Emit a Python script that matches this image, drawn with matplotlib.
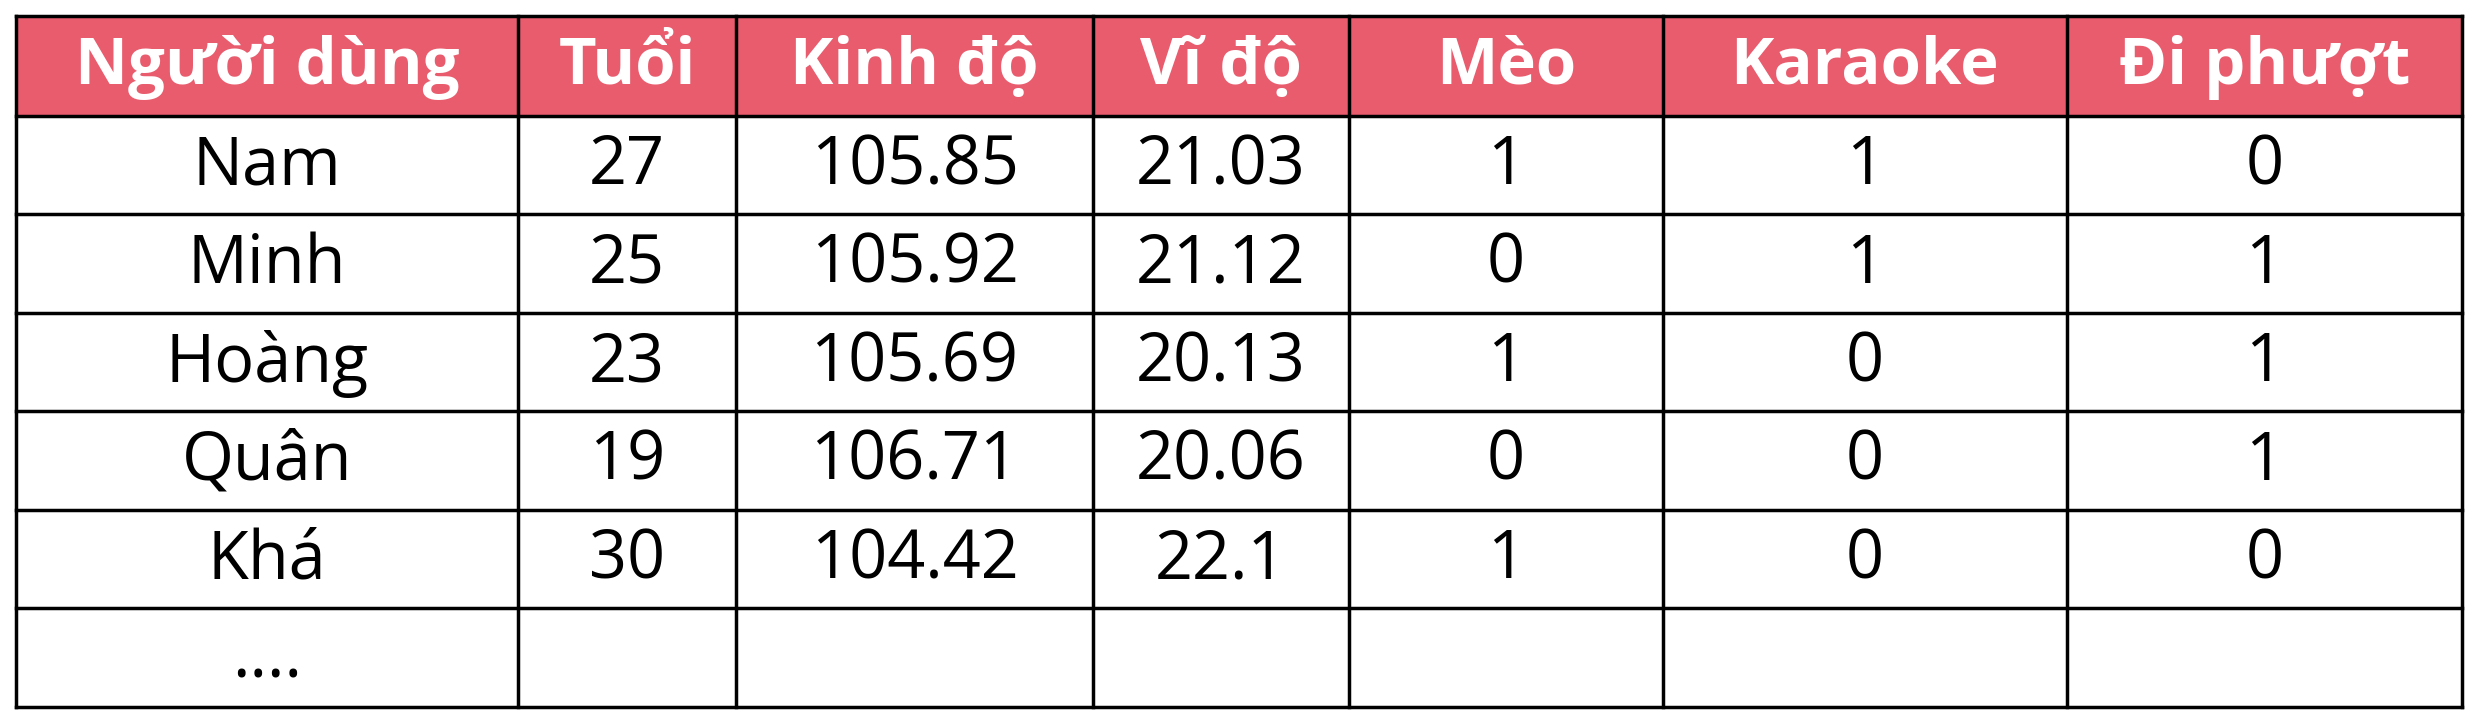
import matplotlib.pyplot as plt
from matplotlib.patches import Rectangle

headers = ["Người dùng", "Tuổi", "Kinh độ", "Vĩ độ", "Mèo", "Karaoke", "Đi phượt"]
users = ["Nam", "Minh", "Hoàng", "Quân", "Khá", "...."]
ages = ["27", "25", "23", "19", "30", ""]
lons = ["105.85", "105.92", "105.69", "106.71", "104.42", ""]
lats = ["21.03", "21.12", "20.13", "20.06", "22.1", ""]
meo = ["1", "0", "1", "0", "1", ""]
karaoke = ["1", "1", "0", "0", "0", ""]
phuot = ["0", "1", "1", "1", "0", ""]
columns = [users, ages, lons, lats, meo, karaoke, phuot]

# layout in a 1568 x 455 drawing space
col_edges = [10, 327, 465, 690, 852, 1050, 1305, 1555]
top, header_bottom, row_h = 10, 73, 62.3

fig = plt.figure(figsize=(24.83, 7.2), dpi=100)
ax = fig.add_axes([0, 0, 1, 1])
ax.set_xlim(0, 1568)
ax.set_ylim(455, 0)
ax.axis("off")

bottom = header_bottom + row_h * len(users)
ax.add_patch(Rectangle((col_edges[0], top), col_edges[-1] - col_edges[0],
                       header_bottom - top, color="#E95C6E", zorder=0))

for i, h in enumerate(headers):
    cx = (col_edges[i] + col_edges[i + 1]) / 2
    ax.text(cx, (top + header_bottom) / 2 + 1, h, ha="center", va="center",
            fontsize=47, fontweight="bold", color="white", family="Open Sans")
    for r, v in enumerate(columns[i]):
        cy = header_bottom + row_h * (r + 0.5)
        ax.text(cx, cy + 1, v, ha="center", va="center", fontsize=48,
                color="black", family="Open Sans")

for x in col_edges:
    ax.plot([x, x], [top, bottom], color="black", lw=2.5)
ax.plot([col_edges[0], col_edges[-1]], [top, top], color="black", lw=2.5)
for r in range(len(users) + 1):
    y = header_bottom + row_h * r
    ax.plot([col_edges[0], col_edges[-1]], [y, y], color="black", lw=2.5)

fig.savefig("out.png", dpi=100)
